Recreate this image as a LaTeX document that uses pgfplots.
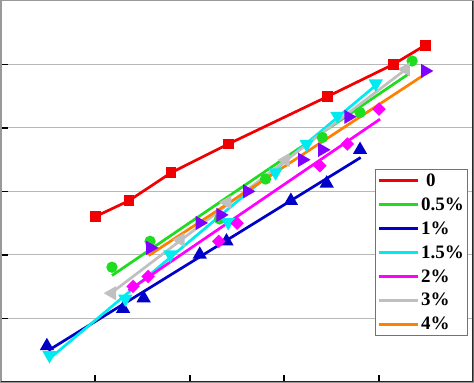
\documentclass[border=0pt]{standalone}
\usepackage{fontspec}
\setmainfont{Liberation Serif}
\usepackage{pgfplots}
\pgfplotsset{compat=1.18}
\definecolor{cR}{RGB}{240,0,0}
\definecolor{cG}{RGB}{30,220,30}
\definecolor{cB}{RGB}{0,0,200}
\definecolor{cC}{RGB}{0,235,240}
\definecolor{cM}{RGB}{255,0,255}
\definecolor{cGr}{RGB}{192,192,192}
\definecolor{cO}{RGB}{255,128,0}
\definecolor{cV}{RGB}{128,0,255}
\begin{document}
\begin{tikzpicture}
\begin{axis}[
  scale only axis, width=471bp, height=380bp,
  xmin=0, xmax=5, ymin=0, ymax=6,
  xtick={1,2,3,4}, ytick={1,2,3,4,5},
  xticklabels={}, yticklabels={},
  tick label style={overlay},
  xtick pos=bottom, ytick pos=left,
  tick align=inside, major tick length=7bp,
  tick style={black, line width=1.5bp},
  ymajorgrids, grid style={draw=black!28, line width=1bp},
  axis line style={draw=black!40, line width=1.5bp},
  legend style={at={(axis description cs:0.792,0.558)}, anchor=north west,
    draw=black!55, line width=0.8bp, inner xsep=2bp, inner ysep=2bp,
    font=\fontsize{19}{22}\selectfont\bfseries, row sep=5.8bp,
    cells={anchor=west}},
  legend image code/.code={\draw[#1, line width=2.6bp] (0bp,0bp) -- (39bp,0bp);},
  every axis plot/.append style={line width=2.7bp},
]
% markers
\addplot[only marks, mark=*, mark size=4.2bp, cG, forget plot] coordinates {
 (1.177,1.806) (1.580,2.214) (2.315,2.566) (2.802,3.194) (3.403,3.848) (3.802,4.240) (4.353,5.052)};
\addplot[only marks, mark=triangle*, mark size=5.5bp, cB, forget plot] coordinates {
 (0.488,0.565) (1.294,1.152) (1.512,1.319) (2.106,2.005) (2.389,2.214) (3.070,2.853) (3.449,3.125) (3.802,3.654)};
\addplot[only marks, mark=triangle*, mark size=5.5bp, mark options={rotate=180}, cC, forget plot] coordinates {
 (0.516,0.419) (1.318,1.309) (1.795,2.005) (2.407,2.512) (2.908,3.298) (3.237,3.744) (3.562,4.188) (3.968,4.696)};
\addplot[only marks, mark=square*, mark size=3.4bp, mark options={rotate=45}, cM, forget plot] coordinates {
 (1.400,1.503) (1.559,1.660) (2.307,2.214) (2.502,2.497) (3.378,3.403) (3.668,3.744) (4.003,4.294)};
\addplot[only marks, mark=triangle*, mark size=5.5bp, mark options={rotate=90}, cGr, forget plot] coordinates {
 (1.177,1.397) (1.901,2.236) (2.396,2.827) (3.014,3.493) (4.286,4.922)};
\addplot[only marks, mark=triangle*, mark size=5.5bp, mark options={rotate=-90}, cV, forget plot] coordinates {
 (1.583,2.110) (2.106,2.503) (2.325,2.629) (2.608,3.000) (3.191,3.497) (3.403,3.654) (3.679,4.173) (4.491,4.895)};
\addplot[only marks, mark=square*, mark size=4bp, cR, forget plot] coordinates {
 (1.000,2.602) (1.357,2.853) (1.802,3.293) (2.407,3.744) (3.456,4.491) (4.156,5.000) (4.491,5.299)};
% lines
\addplot[cR, no marks] coordinates {
 (1.000,2.602) (1.357,2.853) (1.802,3.293) (2.407,3.744) (3.456,4.491) (4.156,5.000) (4.491,5.299)};
\addlegendentry{\hspace{5bp}0}
\addplot[cG] coordinates {(1.177,1.675) (4.311,4.843)};
\addlegendentry{0.5\%}
\addplot[cB] coordinates {(0.505,0.497) (3.809,3.533)};
\addlegendentry{1\%}
\addplot[cC] coordinates {(0.516,0.367) (4.003,4.711)};
\addlegendentry{1.5\%}
\addplot[cM] coordinates {(1.353,1.440) (4.014,4.137)};
\addlegendentry{2\%}
\addplot[cGr] coordinates {(1.159,1.388) (4.311,4.947)};
\addlegendentry{3\%}
\addplot[cO] coordinates {(1.565,1.989) (4.463,4.817)};
\addlegendentry{4\%}
\draw[black!85, line width=2bp] (rel axis cs:1,1) -- (rel axis cs:1,0) -- (rel axis cs:0,0);
\end{axis}
\end{tikzpicture}
\end{document}
